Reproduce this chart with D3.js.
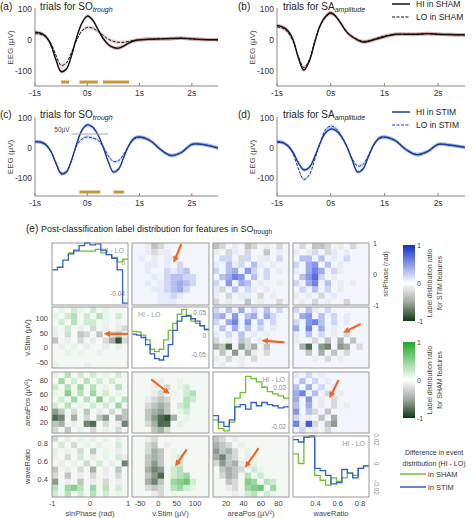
<!DOCTYPE html>
<html><head><meta charset="utf-8">
<script src="https://cdn.jsdelivr.net/npm/d3@7"></script>
<style>body{margin:0;background:#fff}text{font-family:"Liberation Sans",Arial,sans-serif}</style>
</head><body><svg id="c" width="474" height="518"></svg>
<script>
// Time axis of the ERP panels (s).
const T = [-1,-0.9,-0.8,-0.7,-0.6,-0.5,-0.4,-0.3,-0.2,-0.1,0,0.1,0.2,0.3,0.4,0.5,0.6,0.7,0.8,0.9,1.0,1.2,1.4,1.6,1.8,2.0,2.2,2.5];
const aHi = [25,22,12,-15,-65,-103,-95,-50,10,55,77,65,35,5,-15,-25,-27,-20,-10,-3,0,2,3,4,5,3,1,0];
const aLo = [20,18,10,-10,-50,-83,-75,-40,0,30,40,38,28,15,2,-5,-8,-8,-5,-2,0,2,3,4,5,3,1,0];
const bHi = [47,42,30,0,-60,-98,-70,-10,45,75,88,75,50,25,10,0,-7,-5,0,5,10,18,18,18,20,18,17,16];
const bLo = [42,38,25,-5,-55,-90,-65,-5,45,72,85,75,50,25,10,0,-5,-3,2,7,12,17,18,18,20,18,17,16];
const cHi = [21,20,12,-10,-50,-85,-80,-40,15,60,77,70,45,5,-45,-80,-70,-30,10,33,37,25,-5,-25,-15,12,12,0];
const cLo = [21,20,12,-10,-50,-85,-80,-40,10,30,37,33,27,5,-25,-45,-42,-20,10,30,35,25,-5,-25,-15,12,12,0];
const dHi = [20,18,8,-15,-50,-73,-65,-30,15,50,63,58,38,5,-40,-80,-70,-30,10,33,37,25,-5,-22,-12,12,10,2];
const dLo = [22,20,8,-20,-70,-105,-90,-40,15,60,73,65,40,5,-35,-60,-55,-25,10,30,35,25,-5,-22,-12,12,10,2];
const barsA = [[-0.5,-0.35],[-0.15,0.2],[0.3,0.8]];
const barsC = [[-0.15,0.25],[0.5,0.7]];
const timeTicks = [-1,0,1,2];

// Features of panel (e).
const features = ["sinPhase","vStim","areaPos","waveRatio"];
const featLabels = ["sinPhase (rad)","v.Stim (\u00b5V)","areaPos (\u00b5V\u00b2)","waveRatio"];
const featDomains = [[-1,1],[-72,138],[5,92],[0.2,0.88]];
const featTicks = [[-1,0,1],[-50,0,50,100],[20,40,60,80],[0.4,0.6,0.8]];

// Diagonal histograms: difference HI - LO per bin.
const diagStim = [
  [-0.009,-0.006,0.002,0.009,0.013,0.018,0.021,0.019,0.020,0.013,0.008,0.004,-0.009,-0.046],
  [0.002,0.0,-0.005,-0.02,-0.04,-0.05,-0.053,-0.045,-0.02,0.01,0.03,0.04,0.042,0.035,0.03,0.02,0.012],
  [-0.006,-0.012,-0.016,-0.01,0.002,0.004,0.0,0.006,0.003,0.006,0.004,0.003,0.001,0.002],
  [0.02,0.018,0.022,0.023,-0.004,-0.006,-0.01,-0.017,-0.016,-0.005,-0.008,-0.012,-0.004,-0.002]];
const diagSham = [
  [null,null,null,0.010,0.012,0.012,0.012,0.012,0.014,0.010,0.008,0.005,0.000,0.003],
  [0.008,0.007,0.0,-0.01,-0.03,-0.035,-0.03,-0.01,0.01,0.025,0.045,0.055,0.04,0.03,0.025,0.02,0.012],
  [-0.01,-0.018,-0.02,-0.012,0.01,0.015,0.03,0.028,0.025,0.02,0.016,0.014,0.012,0.01],
  [0.008,0.0,0.022,0.022,-0.01,-0.014,-0.018,-0.012,-0.015,-0.012,-0.008,-0.01,-0.004,-0.002]];
const diagDomains = [[-0.048,0.021],[-0.07,0.06],[-0.022,0.034],[-0.028,0.023]];

// Heatmaps, rows top->bottom. '.'=0, '1'..'9' positive, 'a'..'i' negative.
const maps = {
 "0,1":["..acb.......","..1ba1......",".1.a.11.....","..11.1.2....","..1..2123...","...1.23322..","..1.123432..","...112342...","....1121....","....111....."],
 "0,2":["cb.a.cb.a.b.","a.b1.b..c.1.",".22.b2.a1.2.","1.3a2.3a.1..","2.34.52.2.1.",".3465.3.2...","2.5.43.1..a.","1b.3.2a.1...","a.b.a1.b.a..","b.a..c.a..b."],
 "0,3":[".b.ccb.a.b..","1.a2.b1.a...",".33.3.1.2...","2.45.3.1....","1.464.2a....",".3572.a.....","2.46.3.1.a..",".2.3.2.a....","a.1.b.1.....",".a.b.a..b..."],
 "1,2":["2.3.4.2.3.2.","34.5.34.42..","2.46.5.3.2..",".3.4.3.2.1..","1.2.3.1.a...","b.a.cb.a....","dcg.ebd.c...",".c.e.da.b...","a.b.a.b.....",".a..a......."],
 "1,3":["2.31.2......",".45.3.2.1...","2.563.2.1...","4.6.4.1.....","1.3.2.a.b...","a..b.c.d.c..",".dg.ef.ed.b.","..c.d.c.b...","...a.b.a....","............"],
 "2,3":["1.2.1.......",".3.2.1......","3.4.2.1.....","46.3.2.a....","4.5.a.b.....","3.4.1.b.a...","5.3b.c......","2.a.c.d.....","6a8b.ce.....",".2.a.b......"],
 "1,0":[".1.21.2.1...","1.23.2.31.2.",".2.3.22.1.1.","1.2.a.b.a.ab","a.b.cb.c.bc.","c.a.b.a.bdhb",".a.1.a..a.a.","..1.1..1....","............","1....1......"],
 "2,0":["1.3.2.2.1.2.",".4.2.3.2.2..","2.3.4.3.1.3.","1.5.3.4.2.1.",".2.4.3.5.2.3","2.3.1.2.2.4.","ec.b.c.a.b.c","gf.d.b.ce.dc","cd.a.fg.b.af","b.c.a.b.a.b."],
 "2,1":["............","....a..1....","...a.b.12...","...ab.1.23..","..abcb..32..","..bcdc.23...","..cdec.12...","..ceghd.1...","..bdgg.a....","...cdb......"],
 "3,0":["b.a.1.a.1.a.",".2.b.1.a..2.","a.1.b.c.1.a.","1.b.2.a.1.2a",".a.1.b.2.a.f","c.a.b.d.a.c.","b.c.a.b.a.b.","e.a.c.a.b.a.","3.453.4.3.2.","2.3.2.3.2.1."],
 "3,1":["..ab........","..bc.a......","..bdc.1.....","..cdc.12....","..cec.12....","..dfe.23....","..ceg.234...","..dfc.4562..","..bcb.3421..","...ab.1....."],
 "3,2":["cb.a........","dcb.1.......","ecdb.1......","dfcb.a1.....","becda.1.....",".cdcb.21....",".bdc.3.2....","..cb.54.32..","..ab.456.4..","...a.23.21.."]
};
// Arrows: [row, col, x0, y0, x1, y1] as fractions of the panel.
const arrows = [[0,1,0.64,0.02,0.54,0.32],[1,0,1.0,0.44,0.68,0.44],[1,2,0.94,0.58,0.64,0.55],
  [1,3,0.89,0.28,0.66,0.42],[2,1,0.25,0.12,0.49,0.36],[2,3,0.6,0.13,0.48,0.43],
  [3,1,0.71,0.22,0.56,0.5],[3,2,0.6,0.2,0.42,0.52]];

const svg = d3.select("#c");

// ---------- ERP panels ----------
function erp(x0, x1, y0, y1, yDom, hi, lo, col, band, bars, ticksLeft) {
  const x = d3.scaleLinear().domain([-1,2.5]).range([x0,x1]);
  const y = d3.scaleLinear().domain(yDom).range([y1,y0]);
  const g = svg.append("g");
  g.append("line").attr("x1",x0).attr("x2",x1).attr("y1",y1).attr("y2",y1).attr("stroke","#888");
  g.append("line").attr("x1",x0).attr("x2",x0).attr("y1",y(100)-1).attr("y2",y1).attr("stroke","#888");
  timeTicks.forEach(t => {
    g.append("line").attr("x1",x(t)).attr("x2",x(t)).attr("y1",y1).attr("y2",y1-3).attr("stroke","#888");
    g.append("text").attr("x",x(t)).attr("y",y1+10).attr("text-anchor","middle").attr("font-size",8.5).attr("fill","#333").text(t+"s");
  });
  ticksLeft.forEach(v => g.append("text").attr("x",x0-3).attr("y",Math.min(y(v),y1)+3).attr("text-anchor","end").attr("font-size",8.5).attr("fill","#333").text(v));
  g.append("text").attr("transform",`translate(${x0-22},${(y(100)+y1)/2}) rotate(-90)`).attr("text-anchor","middle").attr("font-size",8).attr("fill","#444").text("EEG (\u00b5V)");
  const area = d3.area().x((d,i)=>x(T[i])).y0(d=>y(d-6)).y1(d=>y(d+6)).curve(d3.curveCatmullRom);
  g.append("path").attr("d",area(hi)).attr("fill",band).attr("opacity",0.6);
  g.append("path").attr("d",area(lo)).attr("fill",band).attr("opacity",0.35);
  const line = d3.line().x((d,i)=>x(T[i])).y(d=>y(d)).curve(d3.curveCatmullRom);
  g.append("path").attr("d",line(lo)).attr("fill","none").attr("stroke",col).attr("stroke-width",1).attr("stroke-dasharray","3,1.5");
  g.append("path").attr("d",line(hi)).attr("fill","none").attr("stroke",col).attr("stroke-width",1.4);
  (bars||[]).forEach(b => g.append("line").attr("x1",x(b[0])).attr("x2",x(b[1])).attr("y1",y1-4).attr("y2",y1-4).attr("stroke","#c8963a").attr("stroke-width",3));
  return {x,y,g};
}
erp(35,218,9,86,[-150,100],aHi,aLo,"#111","#c98a8a",barsA,[100,0,-100]);
erp(277,465,9,86,[-150,100],bHi,bLo,"#111","#c98a8a",null,[100,0,-100]);
const pc = erp(35,218,118,196,[-160,100],cHi,cLo,"#1c3a9a","#7f9ee0",barsC,[100,0,-100]);
erp(277,465,118,196,[-160,100],dHi,dLo,"#1c3a9a","#7f9ee0",null,[100,0,-100]);
pc.g.append("line").attr("x1",pc.x(-0.3)).attr("x2",pc.x(0.4)).attr("y1",pc.y(50)+1).attr("y2",pc.y(50)+1).attr("stroke","#aaa");
pc.g.append("text").attr("x",pc.x(-0.3)-2).attr("y",pc.y(50)-1).attr("text-anchor","end").attr("font-size",6.5).attr("fill","#444").text("50\u00b5V");

function title(x, tx, y, lab, main, sub) {
  svg.append("text").attr("x",x).attr("y",y).attr("font-size",10).attr("fill","#222").text(lab);
  const t = svg.append("text").attr("x",tx).attr("y",y).attr("font-size",10).attr("fill","#222");
  t.append("tspan").text(main);
  t.append("tspan").attr("font-size",7).attr("font-style","italic").attr("dy",2).text(sub);
}
title(0,40,10,"(a)","trials for SO","trough");
title(238,283,10,"(b)","trials for SA","amplitude");
title(0,40,118,"(c)","trials for SO","trough");
title(238,283,118,"(d)","trials for SA","amplitude");
function legend(x, y, col, labs) {
  labs.forEach((l,i) => {
    svg.append("line").attr("x1",x).attr("x2",x+18).attr("y1",y+i*13).attr("y2",y+i*13).attr("stroke",col).attr("stroke-width",i?1:1.5).attr("stroke-dasharray",i?"3,1.5":null);
    svg.append("text").attr("x",x+24).attr("y",y+i*13+3).attr("font-size",8.5).attr("fill","#222").text(l);
  });
}
legend(392,4,"#111",["HI in SHAM","LO in SHAM"]);
legend(392,112,"#1c3a9a",["HI in STIM","LO in STIM"]);

// ---------- panel (e) ----------
const e = svg.append("text").attr("x",26).attr("y",232).attr("font-size",9).attr("fill","#222");
e.append("tspan").attr("font-size",10).text("(e) ");
e.append("tspan").text("Post-classification label distribution for features in SO");
e.append("tspan").attr("font-size",6.5).attr("dy",2).text("trough");

const colsX = [[52,128],[132,209],[213,289],[293,369]];
const rowsY = [[243,305],[307,368],[372,433],[436,497]];
const negC = d3.interpolateRgbBasis(["#ffffff","#a4aaa4","#0b3b12"]);
const stimC = d3.interpolateRgb("#ffffff","#1a3bd6");
const shamC = d3.interpolateRgb("#ffffff","#18a326");
const val = ch => ch === "." ? 0 : (ch >= "1" && ch <= "9" ? +ch/9 : -(ch.charCodeAt(0)-96)/9);

for (let r = 0; r < 4; r++) for (let c = 0; c < 4; c++) {
  const [x0,x1] = colsX[c], [y0,y1] = rowsY[r];
  const g = svg.append("g");
  if (r === c) {
    const y = d3.scaleLinear().domain(diagDomains[r]).range([y1,y0]);
    if (r < 3) {
      const tk = r === 0 ? [[0,"0"],[-0.04,"-0.04"]] : r === 1 ? [[0.05,"0.05"],[0,"0"],[-0.05,"-0.05"]] : [[0.02,"0.02"],[-0.02,"-0.02"]];
      tk.forEach(([v,l]) => g.append("text").attr("x",x1-3).attr("y",y(v)+(v<0?-2:3)).attr("text-anchor","end").attr("font-size",6.5).attr("fill","#888").text(l));
    } else {
      [[0.02,"0.02"],[0,"0"],[-0.02,"-0.02"]].forEach(([v,l]) => g.append("text").attr("transform",`translate(${x1+5},${y(v)}) rotate(90)`).attr("text-anchor","middle").attr("font-size",6.5).attr("fill","#888").text(l));
    }
    const hx = r === 1 ? x0 + 6 : x1 - 4;
    g.append("text").attr("x",hx).attr("y",y0+10).attr("text-anchor",r === 1 ? "start" : "end").attr("font-size",7).attr("fill","#999").text("HI - LO");
    [[diagSham[r],"#6fbf2e"],[diagStim[r],"#2f5fd0"]].forEach(([d,col]) => {
      const xb = d3.scaleLinear().domain([0,d.length]).range([x0,x1]);
      const line = d3.line().defined(v=>v!==null).x((v,i)=>xb(i)).y(v=>y(v)).curve(d3.curveStepAfter);
      g.append("path").attr("d",line(d.concat([d[d.length-1]]))).attr("fill","none").attr("stroke",col).attr("stroke-width",1.3);
    });
  } else {
    const m = maps[r+","+c];
    const bx = d3.scaleBand().domain(d3.range(m[0].length)).range([x0,x1]);
    const by = d3.scaleBand().domain(d3.range(m.length)).range([y0,y1]);
    const pos = r < c ? stimC : shamC;
    m.forEach((row,i) => row.split("").forEach((ch,j) => {
      const v = val(ch);
      g.append("rect").attr("x",bx(j)).attr("y",by(i)).attr("width",bx.bandwidth()+0.3).attr("height",by.bandwidth()+0.3)
        .attr("fill", v > 0 ? pos(v*0.95) : v < 0 ? negC(-v) : (r < c ? "#f3f5fc" : "#f4f8f4"));
    }));
  }
  g.append("rect").attr("x",x0).attr("y",y0).attr("width",x1-x0).attr("height",y1-y0).attr("fill","none").attr("stroke","#999");
}
arrows.forEach(([r,c,a0,b0,a1,b1]) => {
  const fx = d3.scaleLinear().range(colsX[c]), fy = d3.scaleLinear().range(rowsY[r]);
  const X0=fx(a0),Y0=fy(b0),X1=fx(a1),Y1=fy(b1), ang=Math.atan2(Y1-Y0,X1-X0);
  svg.append("line").attr("x1",X0).attr("y1",Y0).attr("x2",X1-Math.cos(ang)*4).attr("y2",Y1-Math.sin(ang)*4).attr("stroke","#f26522").attr("stroke-width",2.2);
  const p = [[X1,Y1],[X1-7*Math.cos(ang-0.45),Y1-7*Math.sin(ang-0.45)],[X1-7*Math.cos(ang+0.45),Y1-7*Math.sin(ang+0.45)]];
  svg.append("path").attr("d","M"+p.join("L")+"Z").attr("fill","#f26522");
});
// Axes of the matrix.
for (let c = 0; c < 4; c++) {
  const x = d3.scaleLinear().domain(featDomains[c]).range(colsX[c]);
  featTicks[c].forEach(v => svg.append("text").attr("x",x(v)).attr("y",506).attr("text-anchor","middle").attr("font-size",7.5).attr("fill","#444").text(v));
  svg.append("text").attr("x",(colsX[c][0]+colsX[c][1])/2).attr("y",516).attr("text-anchor","middle").attr("font-size",7.5).attr("fill","#444").text(featLabels[c]);
}
for (let r = 1; r < 4; r++) {
  const y = d3.scaleLinear().domain(featDomains[r]).range([rowsY[r][1],rowsY[r][0]]);
  featTicks[r].slice().reverse().forEach(v => svg.append("text").attr("x",48).attr("y",y(v)+3).attr("text-anchor","end").attr("font-size",7.5).attr("fill","#444").text(v));
  svg.append("text").attr("transform",`translate(30,${(rowsY[r][0]+rowsY[r][1])/2}) rotate(-90)`).attr("text-anchor","middle").attr("font-size",7.5).attr("fill","#444").text(featLabels[r]);
}
{
  const y = d3.scaleLinear().domain([-1,1]).range([rowsY[0][1],rowsY[0][0]]);
  [1,0,-1].forEach(v => svg.append("text").attr("x",373).attr("y",y(v)+3).attr("font-size",7).attr("fill","#444").text(v));
  svg.append("text").attr("transform",`translate(388,274) rotate(-90)`).attr("text-anchor","middle").attr("font-size",7).attr("fill","#444").text("sinPhase (rad)");
}
// Colour bars.
const defs = svg.append("defs");
function cbar(id, y0, top, lines) {
  const gr = defs.append("linearGradient").attr("id",id).attr("x1",0).attr("x2",0).attr("y1",0).attr("y2",1);
  [[0,top],[0.5,"#ffffff"],[0.75,"#a4aaa4"],[1,"#0b3b12"]].forEach(([o,c]) => gr.append("stop").attr("offset",o).attr("stop-color",c));
  svg.append("rect").attr("x",403).attr("y",y0).attr("width",12).attr("height",76).attr("fill",`url(#${id})`);
  [["1",0],["0",38],["-1",76]].forEach(([l,d]) => svg.append("text").attr("x",417).attr("y",y0+d+3).attr("font-size",7).attr("fill","#444").text(l));
  lines.forEach((l,i) => svg.append("text").attr("transform",`translate(${432+i*10},${y0+38}) rotate(-90)`).attr("text-anchor","middle").attr("font-size",7).attr("fill","#444").text(l));
}
cbar("gs",245,"#1030c8",["Label distribution ratio","for STIM features"]);
cbar("gh",342,"#22a82a",["Label distribution ratio","for SHAM features"]);
svg.append("text").attr("x",434).attr("y",455).attr("text-anchor","middle").attr("font-size",7).attr("fill","#333").text("Difference in event");
svg.append("text").attr("x",434).attr("y",466).attr("text-anchor","middle").attr("font-size",7).attr("fill","#333").text("distribution (HI - LO)");
[["#6fbf2e","in SHAM",474],["#2f5fd0","in STIM",487]].forEach(([c,l,y]) => {
  svg.append("line").attr("x1",400).attr("x2",426).attr("y1",y).attr("y2",y).attr("stroke",c).attr("stroke-width",1.5);
  svg.append("text").attr("x",428).attr("y",y+3).attr("font-size",7.5).attr("fill","#333").text(l);
});
</script></body></html>
